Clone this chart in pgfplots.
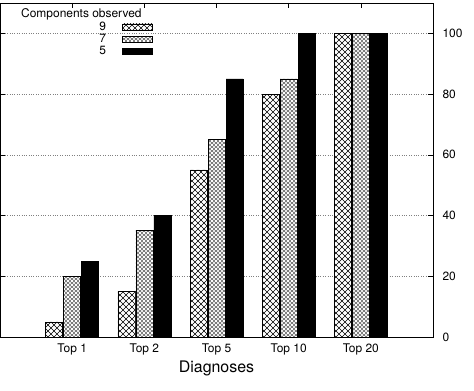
\documentclass[border=0pt]{standalone}
\usepackage{fontspec}
\setmainfont{TeX Gyre Heros}
\usepackage{pgfplots}
\pgfplotsset{compat=1.18}
\usetikzlibrary{patterns}

\pgfdeclarepatternformonly{bigcross}{\pgfpoint{-1bp}{-1bp}}{\pgfpoint{7bp}{7bp}}{\pgfpoint{6bp}{6bp}}{%
  \pgfsetlinewidth{0.5pt}
  \pgfpathmoveto{\pgfpoint{0bp}{0bp}}\pgfpathlineto{\pgfpoint{6bp}{6bp}}
  \pgfpathmoveto{\pgfpoint{0bp}{6bp}}\pgfpathlineto{\pgfpoint{6bp}{0bp}}
  \pgfusepath{stroke}}
\pgfdeclarepatternformonly{smallcross}{\pgfpoint{-1bp}{-1bp}}{\pgfpoint{5bp}{5bp}}{\pgfpoint{4bp}{4bp}}{%
  \pgfsetlinewidth{0.3pt}
  \pgfpathmoveto{\pgfpoint{0bp}{0bp}}\pgfpathlineto{\pgfpoint{4bp}{4bp}}
  \pgfpathmoveto{\pgfpoint{0bp}{4bp}}\pgfpathlineto{\pgfpoint{4bp}{0bp}}
  \pgfusepath{stroke}
  \pgfpathcircle{\pgfpoint{2bp}{0bp}}{0.45bp}
  \pgfusepath{fill}}

\begin{document}
\begin{tikzpicture}
\begin{axis}[
  scale only axis,
  width=433bp, height=334bp,
  xmin=0, xmax=6, ymin=0, ymax=110,
  ybar=1bp, bar width=17bp,
  xtick={1,2,3,4,5},
  xticklabels={Top 1, Top 2, Top 5, Top 10, Top 20},
  ytick={0,20,40,60,80,100},
  yticklabel pos=right,
  tick align=inside,
  major tick length=5bp,
  tick style={black, line width=0.6pt},
  axis line style={line width=0.6pt},
  ymajorgrids,
  grid style={dotted, gray, line width=0.6pt},
  /pgf/number format/assume math mode=true,
  tick label style={font=\fontsize{12}{14}\selectfont},
  xticklabel style={yshift=-3bp},
  yticklabel style={xshift=6bp},
  xlabel={Diagnoses},
  xlabel style={font=\fontsize{16}{19}\selectfont, at={(axis description cs:0.5,0)}, anchor=center, yshift=-31bp},
  legend plot pos=right,
  legend cell align=right,
  legend style={draw=none, fill=none, at={(axis description cs:0.353,0.95)}, anchor=north east,
    font=\fontsize{12}{13}\selectfont, inner sep=0pt, row sep=-1.5bp, column sep=14bp},
  legend image code/.code={\draw[#1, line width=0.6pt] (0bp,-3bp) rectangle (30bp,3bp);},
]
\addplot[draw=black, line width=0.6pt, fill=white, postaction={pattern=bigcross}] coordinates {(1,5) (2,15) (3,55) (4,80) (5,100)};
\addplot[draw=black, line width=0.6pt, fill=white, postaction={pattern=smallcross}] coordinates {(1,20) (2,35) (3,65) (4,85) (5,100)};
\addplot[draw=black, line width=0.6pt, fill=black] coordinates {(1,25) (2,40) (3,85) (4,100) (5,100)};
\legend{9,7,5}
\node[font=\fontsize{12}{14}\selectfont, anchor=center] at (axis description cs:0.188,0.967) {Components observed};
\end{axis}
\pgfresetboundingbox
\path ([yshift=-54bp]current axis.south west) rectangle ([xshift=41bp,yshift=3bp]current axis.north east);
\end{tikzpicture}
\end{document}
